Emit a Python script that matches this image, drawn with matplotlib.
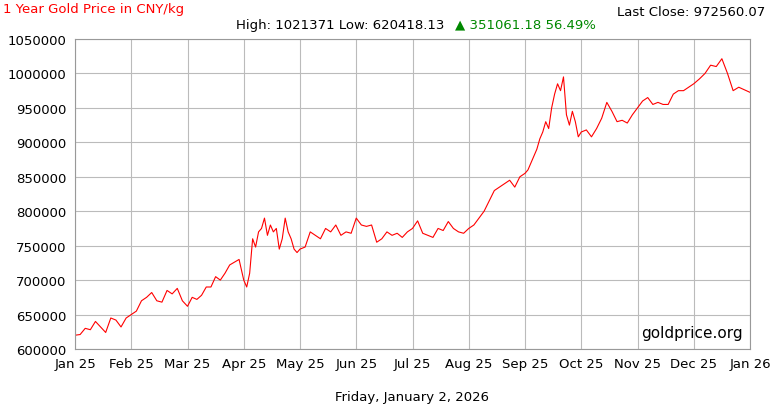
import matplotlib
matplotlib.use("Agg")
import matplotlib.pyplot as plt
from matplotlib.ticker import FuncFormatter
import numpy as np

months = ["Jan 25","Feb 25","Mar 25","Apr 25","May 25","Jun 25","Jul 25","Aug 25","Sep 25","Oct 25","Nov 25","Dec 25","Jan 26"]
jan = [620000,621000,630000,628000,640000,632000,624000,645000,642000,632000,645000]
feb = [650000,655000,670000,675000,682000,670000,668000,685000,680000,688000,670000]
mar = [662000,675000,672000,678000,690000,690000,705000,700000,710000,722000,726000,730000]
apr = [700000,690000,710000,760000,748000,770000,775000,790000,765000,780000,770000,775000,745000,760000,790000,770000,760000,745000,740000]
may = [745000,748000,770000,765000,760000,775000,770000,780000,765000,770000,768000]
jun = [790000,780000,778000,780000,755000,760000,770000,765000,768000,762000,770000]
jul = [775000,786000,768000,765000,762000,775000,772000,785000,775000,770000,768000]
aug = [775000,780000,790000,800000,815000,830000,835000,840000,845000,835000,850000]
sep = [855000,860000,870000,880000,890000,905000,915000,930000,920000,950000,970000,985000,975000,995000,940000,925000,945000,930000,908000]
oct_ = [915000,918000,908000,920000,935000,958000,945000,930000,932000,928000,940000]
nov = [950000,960000,965000,955000,958000,955000,955000,970000,975000,975000,980000]
dec = [985000,992000,1000000,1012000,1010000,1021371,1000000,975000,980000,972560]
series = [jan,feb,mar,apr,may,jun,jul,aug,sep,oct_,nov,dec]

xs, ys = [], []
for m, vals in enumerate(series):
    n = len(vals)
    for i, v in enumerate(vals):
        xs.append(m + i / n)
        ys.append(v)
xs[-1] = 12

fig = plt.figure(figsize=(7.7, 4.1), dpi=100)
ax = fig.add_axes([75/770, 60/410, 675/770, 310/410])
ax.plot(xs, ys, color="#ff0000", lw=0.8)
ax.set_xlim(0, 12)
ax.set_ylim(600000, 1050000)
ax.set_xticks(range(13))
ax.set_xticklabels(months)
ax.set_yticks(np.arange(600000, 1050001, 50000))
ax.yaxis.set_major_formatter(FuncFormatter(lambda v, p: f"{int(v)}"))
ax.grid(True, color="#bbbbbb", lw=0.8)
ax.tick_params(labelsize=9.5, length=0, pad=6)
for s in ax.spines.values():
    s.set_color("#999999")
fig.text(3/770, 1-10/410, "1 Year Gold Price in CNY/kg", color="#ff0000", fontsize=9.5, va="center")
fig.text(765/770, 1-12/410, "Last Close: 972560.07", fontsize=9.5, va="center", ha="right")
fig.text(236/770, 1-25/410, "High: 1021371 Low: 620418.13 ", fontsize=9.5, va="center")
fig.text(455/770, 1-25/410, "▲ 351061.18 56.49%", fontsize=9.5, va="center", color="#008800")
ax.text(0.99, 0.03, "goldprice.org", transform=ax.transAxes, ha="right", va="bottom", fontsize=11)
fig.text(0.535, 1-398/410, "Friday, January 2, 2026", fontsize=9.5, ha="center", va="center")
fig.savefig("out.png")
